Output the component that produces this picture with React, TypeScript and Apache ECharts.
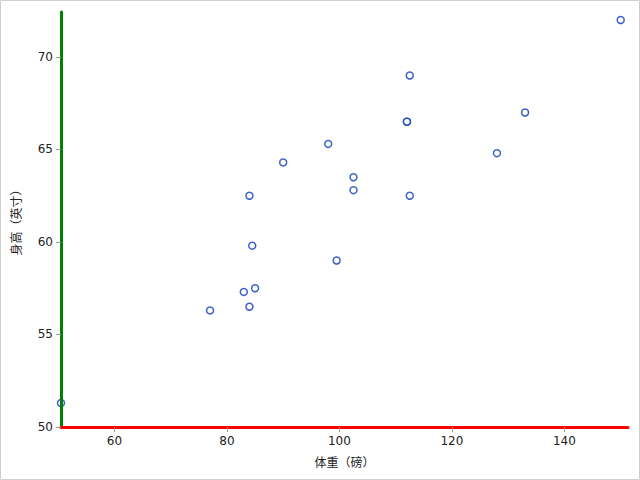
import React, { useEffect, useRef } from "react";
import * as echarts from "echarts";

const weights = [112.5, 84.0, 98.0, 102.5, 102.5, 83.0, 84.5, 112.5, 84.0, 99.5, 50.5, 90.0, 77.0, 112.0, 150.0, 128.0, 133.0, 85.0, 112.0];
const heights = [69.0, 56.5, 65.3, 62.8, 63.5, 57.3, 59.8, 62.5, 62.5, 59.0, 51.3, 64.3, 56.3, 66.5, 72.0, 64.8, 67.0, 57.5, 66.5];
const xName = "体重（磅）";
const yName = "身高（英寸）";

const FONT = "'DejaVu Sans', 'Noto Sans CJK SC', sans-serif";

export default function App() {
  const ref = useRef<HTMLDivElement>(null);
  useEffect(() => {
    document.body.style.margin = "0";
    const chart = echarts.init(ref.current!, null, { renderer: "svg" });
    const data = weights.map((w, i) => [w, heights[i]]);
    chart.setOption({
      animation: false,
      backgroundColor: "#ffffff",
      graphic: [
        {
          type: "rect",
          shape: { x: 0.5, y: 0.5, width: 639, height: 479 },
          style: { fill: "none", stroke: "#cfcfcf", lineWidth: 1 },
          z: 100,
        },
      ],
      grid: { left: 61, right: 12, top: 12, bottom: 53, containLabel: false },
      xAxis: {
        type: "value",
        min: 50.5,
        max: 151.3,
        splitNumber: 5,
        z: 5,
        name: xName,
        nameLocation: "middle",
        nameGap: 30,
        nameTextStyle: { fontFamily: FONT, fontSize: 12, color: "#222" },
        splitLine: { show: false },
        axisLine: { show: true, onZero: false, lineStyle: { color: "#ff0000", width: 3 } },
        axisTick: { show: true, length: 5, lineStyle: { color: "#999" } },
        axisLabel: { showMinLabel: false, showMaxLabel: false, fontFamily: FONT, fontSize: 12, color: "#222", margin: 8 },
      },
      yAxis: {
        type: "value",
        min: 50,
        max: 72.43,
        splitNumber: 5,
        z: 5,
        name: yName,
        nameLocation: "middle",
        nameGap: 38,
        nameTextStyle: { fontFamily: FONT, fontSize: 12, color: "#222" },
        splitLine: { show: false },
        axisLine: { show: true, onZero: false, lineStyle: { color: "#008000", width: 3 } },
        axisTick: { show: true, length: 5, lineStyle: { color: "#999" } },
        axisLabel: { showMaxLabel: false, fontFamily: FONT, fontSize: 12, color: "#222", margin: 8 },
      },
      series: [
        {
          type: "scatter",
          data,
          symbol: "circle",
          symbolSize: 7,
          clip: true,
          z: 1,
          itemStyle: { color: "#ffffff", borderColor: "#0b3bb5", borderWidth: 1.5 },
        },
      ],
    });
    return () => chart.dispose();
  }, []);
  return <div ref={ref} style={{ width: 640, height: 480 }} />;
}
